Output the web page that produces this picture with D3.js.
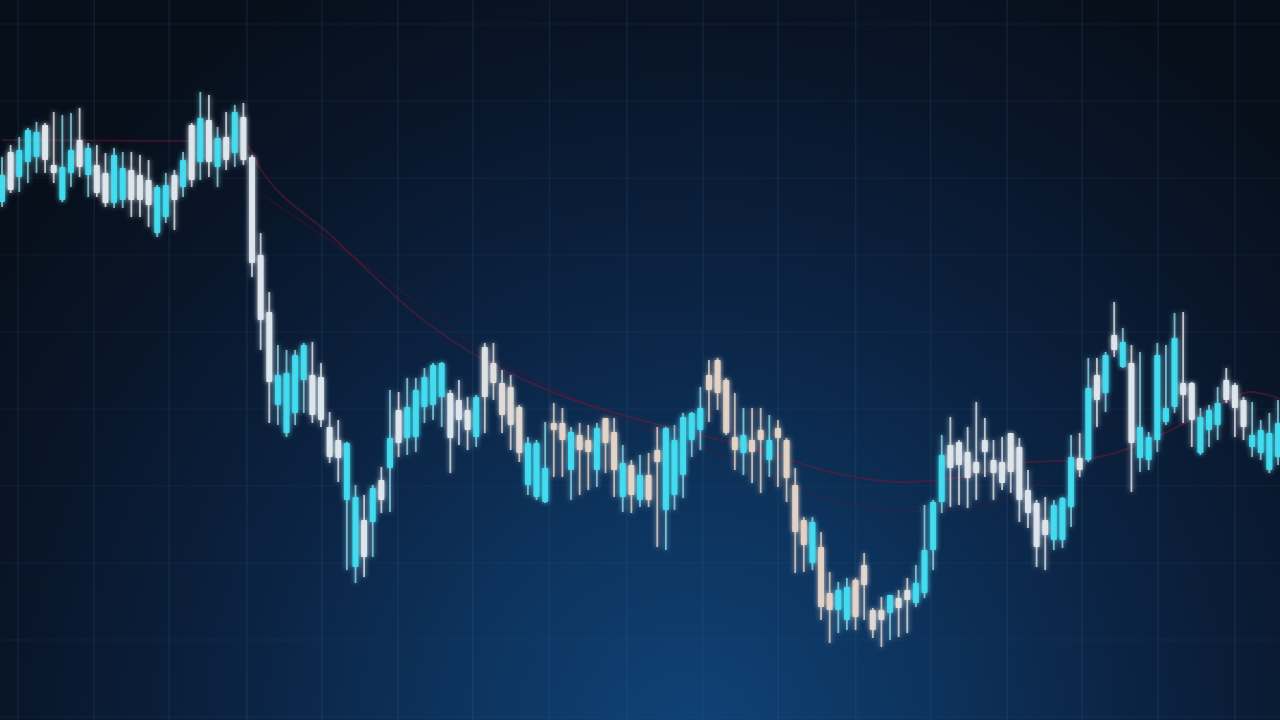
<!DOCTYPE html>
<html><head><meta charset="utf-8">
<script src="https://cdn.jsdelivr.net/npm/d3@7/dist/d3.min.js"></script>
<style>html,body{margin:0;padding:0;background:#07101c;overflow:hidden}svg{display:block}</style>
</head><body>
<svg id="chart" width="1280" height="720"></svg>
<script>
// ---- data (price units) ----
const opens = [518,568,543,558,563,595,555,520,547,580,545,555,547,517,520,550,545,540,487,503,545,533,595,558,600,553,583,567,603,563,465,408,315,287,307,340,345,343,293,280,220,153,200,198,240,252,310,282,283,313,315,323,327,320,310,283,373,357,337,333,313,235,223,218,297,297,250,285,280,250,302,288,223,255,220,245,270,210,225,245,280,290,345,360,340,283,267,280,290,260,292,280,235,200,157,173,127,110,100,140,155,110,110,107,122,130,117,127,170,218,275,278,268,258,280,260,258,287,273,230,217,200,180,180,213,262,260,345,327,385,353,357,262,260,280,298,313,337,337,267,290,295,340,335,320,273,267,250,263];
const highs = [563,575,583,592,598,597,608,605,607,612,577,575,567,572,568,568,565,560,535,547,550,568,597,628,625,593,608,615,617,565,487,428,375,370,370,377,378,357,308,300,278,235,225,235,253,330,328,342,342,352,357,358,330,340,323,325,377,377,350,345,315,283,280,298,317,312,293,297,295,297,302,302,275,260,265,267,293,293,295,307,308,333,360,362,342,327,312,312,312,305,300,282,252,203,203,188,148,138,142,142,167,112,123,125,130,142,155,215,220,285,303,280,293,318,302,280,283,287,282,250,220,223,220,223,285,287,362,362,368,418,392,375,368,288,377,375,407,408,338,312,315,333,352,337,323,318,300,307,320];
const lows = [513,527,528,537,547,547,537,518,533,543,523,523,513,512,512,503,503,493,483,497,490,523,533,540,543,533,550,553,555,443,370,297,295,283,295,307,297,293,257,238,150,137,143,163,207,208,263,265,268,297,300,293,247,275,270,273,287,320,287,270,258,225,220,217,243,243,220,225,230,233,247,223,208,207,213,213,173,170,210,222,263,270,298,310,285,250,245,237,227,243,233,218,147,148,150,100,77,87,90,90,100,82,73,80,83,87,113,122,150,207,213,215,212,220,243,220,230,227,198,192,153,150,170,172,193,243,258,293,308,363,352,228,248,250,268,295,307,297,273,265,273,280,317,283,280,263,260,247,255];
const closes = [545,530,570,590,588,560,547,553,570,553,572,527,517,565,552,520,520,515,533,535,520,560,540,602,558,582,560,608,560,457,400,338,345,347,365,375,305,300,263,262,277,223,163,232,220,282,277,313,330,343,355,357,282,300,290,323,323,337,305,295,267,277,277,252,290,280,288,270,268,292,277,250,257,225,245,220,258,292,280,303,307,312,330,327,287,270,285,268,280,280,282,242,188,175,198,113,110,130,133,103,135,90,100,125,112,120,137,170,218,265,252,255,242,247,268,247,237,248,220,207,173,185,215,222,263,250,332,320,365,370,378,277,293,283,365,312,382,325,300,303,310,317,320,312,293,285,290,287,297];

// moving-average lines (candle index, price)
const maSlowIdx = [0,21.8,28.2,30.2,38.1,49.3,54.3,64.7,76.3,87.9,96.1,104.2,109.2,115.8,119.3,125.1,133.2,140.1,144.8,148];
const maSlowVal = [580,579,575,548,485,397,368,325,295,270,248,238,240,252,258,260,280,310,328,322];
const maFastIdx = [30.2,46.2,55.5,69.4,83.3,96.1,107.7,115.8,121.6];
const maFastVal = [525,430,370,310,265,220,208,220,242];

// grid positions
const gridIdx = [1.86,10.7,19.4,28.4,37.1,45.9,54.6,63.5,72.5,81.3,90,99,107.7,116.6,125.3,134.1,143];
const gridPrice = [696,619,542,465,388,311,234,157,80,3];

const N = opens.length;
const W = 1280, H = 720;
const svg = d3.select('#chart');
const defs = svg.append('defs');

// background radial gradient
const bg = defs.append('radialGradient').attr('id','bg')
  .attr('gradientUnits','userSpaceOnUse').attr('cx',690).attr('cy',740).attr('r',840)
  .attr('fx',690).attr('fy',740);
[[0,'#104277'],[0.25,'#0d3560'],[0.55,'#0b2241'],[0.8,'#09162a'],[1,'#070f1b']]
  .forEach(([o,c])=>bg.append('stop').attr('offset',o).attr('stop-color',c));

// bear candle tint gradient (white with warm tint mid-chart)
const bear = defs.append('linearGradient').attr('id','bear')
  .attr('gradientUnits','userSpaceOnUse').attr('x1',0).attr('x2',W).attr('y1',0).attr('y2',0);
[[0,'#dfe8ef'],[0.36,'#dfe8ef'],[0.42,'#e4d6cc'],[0.66,'#e4d3c5'],[0.72,'#dfe6ec'],[1,'#dfe8ef']]
  .forEach(([o,c])=>bear.append('stop').attr('offset',o).attr('stop-color',c));

const glow = defs.append('filter').attr('id','glow').attr('x','-50%').attr('y','-10%').attr('width','200%').attr('height','120%');
glow.append('feGaussianBlur').attr('in','SourceGraphic').attr('stdDeviation',0.7).attr('result','s');
glow.append('feGaussianBlur').attr('in','SourceGraphic').attr('stdDeviation',2.4).attr('result','b');
const fm = glow.append('feMerge');
fm.append('feMergeNode').attr('in','b');
fm.append('feMergeNode').attr('in','s');

const soft = defs.append('filter').attr('id','soft');
soft.append('feGaussianBlur').attr('stdDeviation',0.6);

svg.append('rect').attr('width',W).attr('height',H).attr('fill','url(#bg)');

const x = d3.scaleLinear().domain([0, N-1]).range([2, 1278]);
const y = d3.scaleLinear().domain([0, 720]).range([720, 0]);

// grid
const grid = svg.append('g').attr('filter','url(#soft)');
grid.selectAll('line.v').data(gridIdx).join('line').attr('class','v')
  .attr('x1',d=>x(d)).attr('x2',d=>x(d)).attr('y1',0).attr('y2',H)
  .attr('stroke','#3f6f9e').attr('stroke-opacity',0.14).attr('stroke-width',1.6);
grid.selectAll('line.h').data(gridPrice).join('line').attr('class','h')
  .attr('y1',d=>y(d)).attr('y2',d=>y(d)).attr('x1',0).attr('x2',W)
  .attr('stroke','#3f6f9e').attr('stroke-opacity',0.07).attr('stroke-width',1.4);

// moving averages
const line = d3.line().x(d=>x(d[0])).y(d=>y(d[1])).curve(d3.curveMonotoneX);
svg.append('path').datum(maSlowIdx.map((d,i)=>[d,maSlowVal[i]]))
  .attr('d',line).attr('fill','none').attr('stroke','#7a1630').attr('stroke-opacity',0.45)
  .attr('stroke-width',2).attr('filter','url(#soft)');
svg.append('path').datum(maFastIdx.map((d,i)=>[d,maFastVal[i]]))
  .attr('d',line).attr('fill','none').attr('stroke','#6a162c').attr('stroke-opacity',0.25)
  .attr('stroke-width',1.6).attr('filter','url(#soft)');

// candles
const data = d3.range(N).map(i=>({i,o:opens[i],h:highs[i],l:lows[i],c:closes[i]}));
const bull = '#44dcf0';
const bw = 6;
const g = svg.append('g').attr('filter','url(#glow)');
const cg = g.selectAll('g').data(data).join('g');
cg.append('line')
  .attr('x1',d=>x(d.i)).attr('x2',d=>x(d.i))
  .attr('y1',d=>y(d.h)).attr('y2',d=>y(d.l))
  .attr('stroke',d=>d.c>=d.o?'#8fd6e6':'url(#bear)')
  .attr('stroke-opacity',0.8).attr('stroke-width',1.8);
cg.append('rect')
  .attr('x',d=>x(d.i)-bw/2).attr('width',bw)
  .attr('y',d=>y(Math.max(d.o,d.c)))
  .attr('height',d=>Math.max(2,Math.abs(y(d.o)-y(d.c))))
  .attr('rx',1)
  .attr('fill',d=>d.c>=d.o?bull:'url(#bear)')
  .attr('fill-opacity',0.95);
</script>
</body></html>
